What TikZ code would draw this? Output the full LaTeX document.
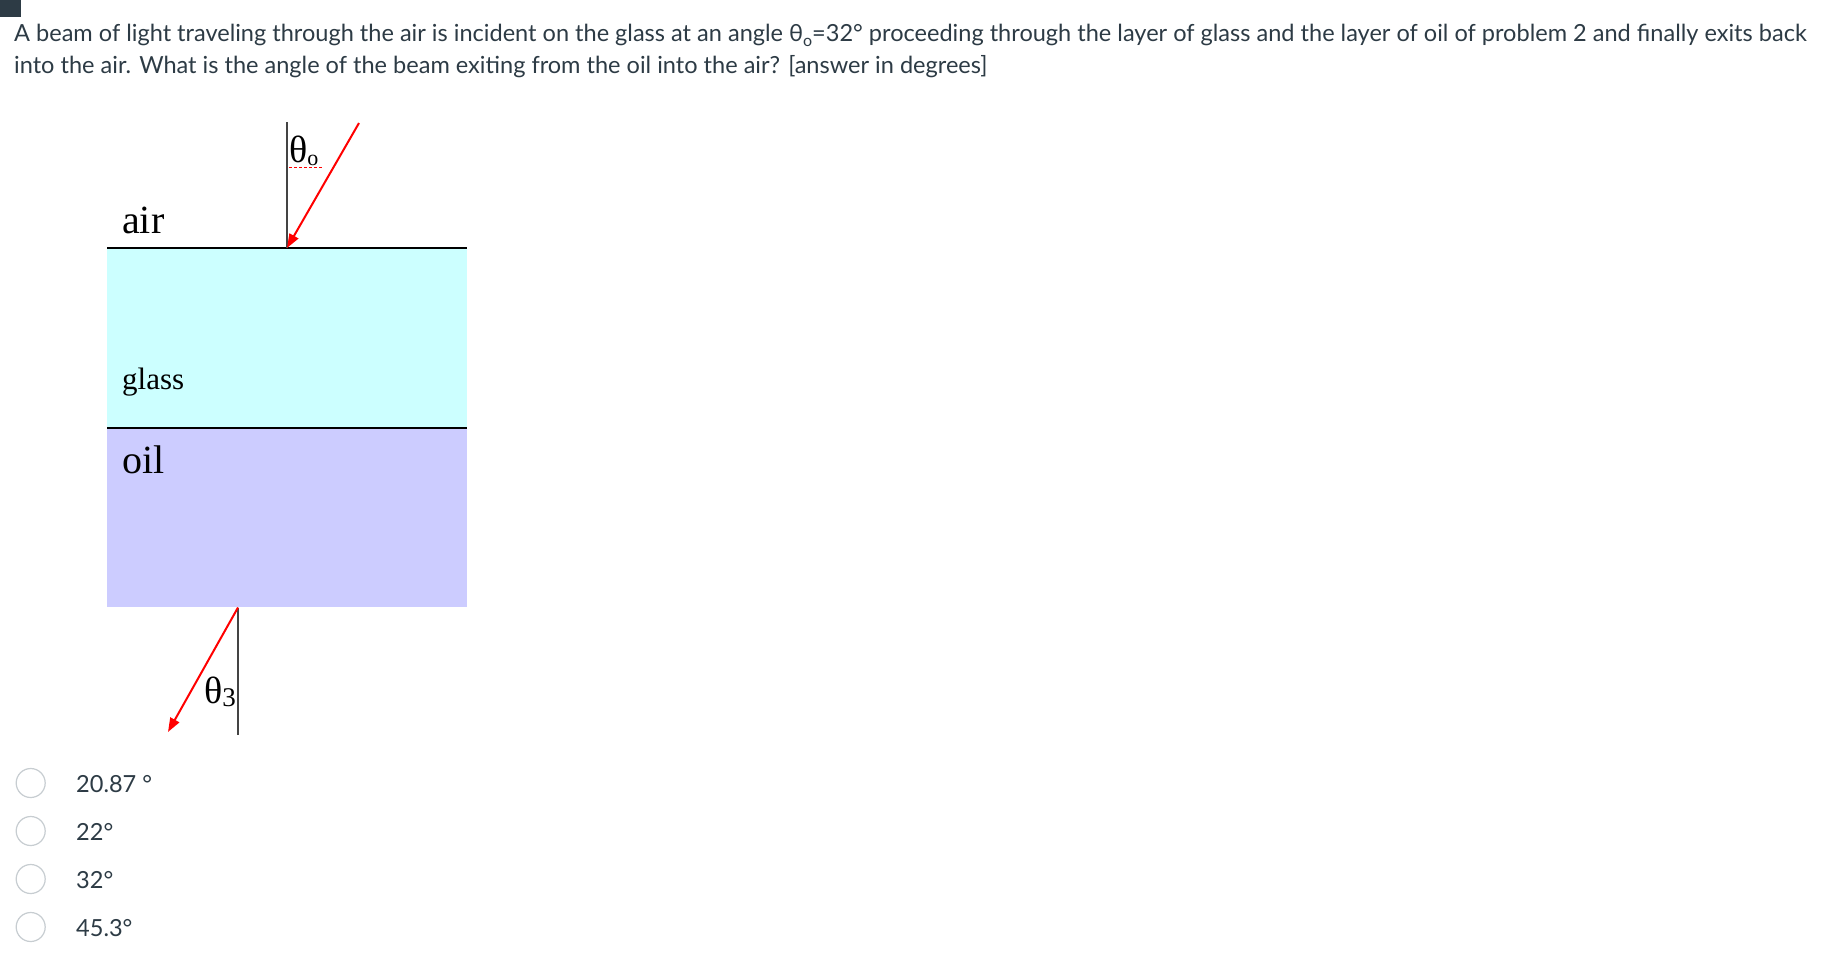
\documentclass[tikz,border=0pt]{standalone}
\usepackage{fontspec}
\setmainfont{Lato}
\newfontfamily\figfont{Liberation Serif}
\usetikzlibrary{arrows.meta,positioning}
\definecolor{canvas}{HTML}{2D3B45}
\definecolor{glasscol}{HTML}{CCFFFF}
\definecolor{oilcol}{HTML}{CCCCFF}
\definecolor{ringcol}{HTML}{C7CDD1}
\definecolor{normcol}{HTML}{444444}

\begin{document}
\begin{tikzpicture}[x=1pt,y=-1pt,
	prompt/.style={anchor=base west,inner sep=0pt,text=canvas,font=\fontsize{23.55}{28}\selectfont},
	layer/.style={minimum width=360pt,inner sep=0pt,outer sep=0pt},
	medium/.style={anchor=base west,inner sep=0pt,font=\figfont\fontsize{40}{44}\selectfont},
	angle/.style={anchor=base west,inner sep=0pt,font=\figfont\fontsize{38}{40}\selectfont},
	ray/.style={draw=red,line width=2pt,-{Triangle[length=14pt,width=10pt,fill=red]}},
	normal/.style={normcol,line width=1.5pt},
	ring/.style={circle,draw=ringcol,line width=1.2pt,minimum size=29pt,inner sep=0pt}]
			\useasboundingbox (0,0) rectangle (1848,954);
			\fill[white] (0,0) rectangle (1848,954);
			\fill[canvas] (0,0) rectangle (21,17);
			\node[prompt] (q1) at (14,41.5) {A beam of light traveling through the air is incident on the glass at an angle θ\raisebox{-0.4ex}{\fontsize{16}{16}\selectfont o}=32° proceeding through the layer of glass and the layer of oil of problem 2 and finally exits back};
			\node[prompt] (q2) at (14,73.5) {into the air. What is the angle of the beam exiting from the oil into the air? [answer in degrees]};
			\node[layer,fill=glasscol,minimum height=180pt] (glass) at (287,338) {};
			\node[layer,fill=oilcol,minimum height=179pt] (oil) [below=0pt of glass] {};
			\draw[line width=1.5pt] (glass.north west) -- (glass.north east);
			\draw[line width=1.5pt] (oil.north west) -- (oil.north east);
			\node[medium] (air) at (122,233) {air};
			\node[medium,font=\figfont\fontsize{31}{34}\selectfont] (glasslbl) at (122,389) {glass};
			\node[medium] (oillbl) at (122,473) {oil};
			\coordinate (top) at (287,122);
			\coordinate (src) at (359,123);
			\coordinate (exit) at (238,607.5);
			\coordinate (bot) at (238,735);
			\coordinate (dst) at (168,732);
			\draw[normal] (top) -- (glass.north);
			\draw[normal] (exit) -- (bot);
			\draw[ray] (src) -- (glass.north);
			\draw[ray] (exit) -- (dst);
			\draw[red,line width=0.7pt,dash pattern=on 3pt off 2pt] (289,167) -- (323,167);
			\node[angle] (th0) at (289,162) {θ\raisebox{-3.5pt}{\fontsize{22}{22}\selectfont o}};
			\node[angle] (th3) at (204,703) {θ\raisebox{-3pt}{\fontsize{27}{27}\selectfont 3}};
			\node[ring] (c1) at (30.7,783) {};
			\node[ring] (c2) at (30.7,831) {};
			\node[ring] (c3) at (30.7,879) {};
			\node[ring] (c4) at (30.7,927) {};
			\node[prompt] (a1) at (76,792) {20.87 °};
			\node[prompt] (a2) at (76,840) {22°};
			\node[prompt] (a3) at (76,888) {32°};
			\node[prompt] (a4) at (76,936) {45.3°};
		\end{tikzpicture}
\end{document}
